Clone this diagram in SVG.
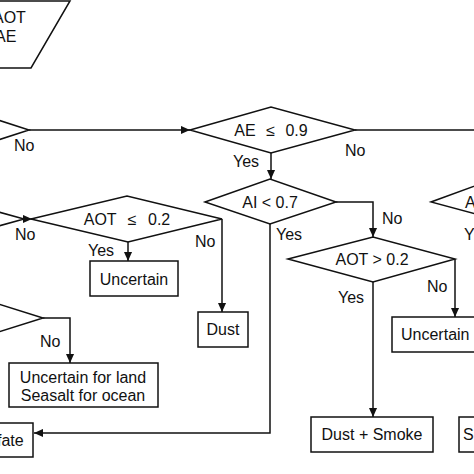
<svg xmlns="http://www.w3.org/2000/svg" width="474" height="474" viewBox="0 0 474 474">
<style>
.s{fill:#fff;stroke:#111;stroke-width:1.5;stroke-linejoin:miter}
.l{fill:none;stroke:#111;stroke-width:1.5}
.t{font-family:"Liberation Sans",Arial,sans-serif;font-size:16px;fill:#111}
.c{text-anchor:middle}
</style>
<defs>
<marker id="arr" viewBox="0 0 10 10" refX="10" refY="5" markerWidth="10" markerHeight="9" markerUnits="userSpaceOnUse" orient="auto">
<path d="M0,0.5 L10,5 L0,9.5 z" fill="#111"/>
</marker>
</defs>
<rect width="474" height="474" fill="#fff"/>

<g id="input">
<path class="s" d="M-5,1 H70 L31,68 H-5"/>
<text class="t" x="-7" y="23">AOT</text>
<text class="t" x="-5" y="42">AE</text>
</g>

<g id="d_topleft">
<path class="s" d="M-5,119 L29,130 L-5,141"/>
</g>

<g id="d_ae">
<path class="s" d="M190,130 L271,107 L355,130 L271,153 Z"/>
<text class="t c" x="271" y="136">AE <tspan dx="6">≤</tspan> <tspan dx="6">0.9</tspan></text>
</g>

<g id="d_ai">
<path class="s" d="M205,202 L270,179 L336,202 L270,224 Z"/>
<text class="t c" x="270" y="208">AI &lt; 0.7</text>
</g>

<g id="d_ai_right">
<path class="s" d="M480,184 L431,202 L480,215"/>
<text class="t" x="465" y="208">A</text>
</g>

<g id="d_midleft">
<path class="s" d="M-5,211 L24,219 L-5,227"/>
</g>

<g id="d_aot02">
<path class="s" d="M31,219 L127,196 L222,219 L128,242 Z"/>
<text class="t c" x="127" y="225">AOT <tspan dx="7">≤</tspan> <tspan dx="7">0.2</tspan></text>
</g>

<g id="d_aotgt">
<path class="s" d="M288,259 L373,237 L455,259 L373,282 Z"/>
<text class="t c" x="372" y="265">AOT &gt; 0.2</text>
</g>

<g id="d_botleft">
<path class="s" d="M-5,303 L43,318 L-5,333"/>
</g>

<g id="b_uncertain">
<rect class="s" x="90" y="261" width="88" height="35"/>
<text class="t c" x="134" y="285">Uncertain</text>
</g>

<g id="b_dust">
<rect class="s" x="198" y="312" width="50" height="35"/>
<text class="t c" x="223" y="335">Dust</text>
</g>

<g id="b_seasalt">
<rect class="s" x="9" y="363" width="149" height="44"/>
<text class="t c" x="83" y="383">Uncertain for land</text>
<text class="t c" x="83" y="401">Seasalt for ocean</text>
</g>

<g id="b_sulfate">
<rect class="s" x="-5" y="423" width="38" height="34"/>
<text class="t" x="-3" y="446">fate</text>
</g>

<g id="b_dustsmoke">
<rect class="s" x="311" y="417" width="122" height="35"/>
<text class="t c" x="372" y="440">Dust + Smoke</text>
</g>

<g id="b_uncertain_right">
<rect class="s" x="392" y="317" width="90" height="35"/>
<text class="t" x="401" y="340">Uncertain</text>
</g>

<g id="b_s_right">
<rect class="s" x="459" y="417" width="30" height="35"/>
<text class="t" x="463" y="440">S</text>
</g>

<g id="connectors">
<path class="l" d="M29,130 H190" marker-end="url(#arr)"/>
<path class="l" d="M271,153 V179" marker-end="url(#arr)"/>
<path class="l" d="M355,130 H476"/>
<path class="l" d="M336,202 H373 V237" marker-end="url(#arr)"/>
<path class="l" d="M270,224 V433 H34" marker-end="url(#arr)"/>
<path class="l" d="M373,282 V417" marker-end="url(#arr)"/>
<path class="l" d="M455,259 V317" marker-end="url(#arr)"/>
<path class="l" d="M22,219 H32" marker-end="url(#arr)"/>
<path class="l" d="M128,242 V261" marker-end="url(#arr)"/>
<path class="l" d="M222,219 V312" marker-end="url(#arr)"/>
<path class="l" d="M43,318 H70 V363" marker-end="url(#arr)"/>
<text class="t" x="14" y="151">No</text>
<text class="t" x="233" y="167">Yes</text>
<text class="t" x="345" y="156">No</text>
<text class="t" x="382" y="224">No</text>
<text class="t" x="276" y="240">Yes</text>
<text class="t" x="464" y="240">Y</text>
<text class="t" x="15" y="240">No</text>
<text class="t" x="88" y="256">Yes</text>
<text class="t" x="195" y="247">No</text>
<text class="t" x="338" y="303">Yes</text>
<text class="t" x="427" y="292">No</text>
<text class="t" x="40" y="347">No</text>
</g>
</svg>
